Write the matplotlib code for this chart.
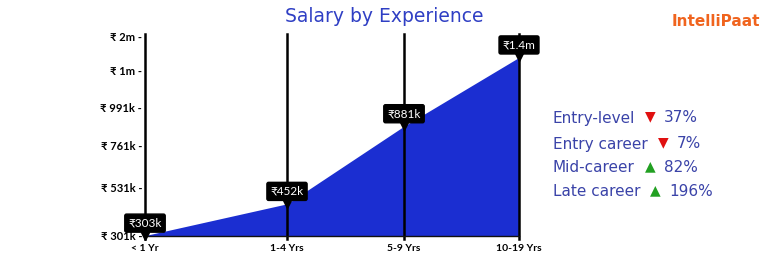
import numpy as np
import matplotlib.pyplot as plt

plt.rcParams['font.family'] = ['Lato', 'DejaVu Sans']

# data
stages = ["< 1 Yr", "1-4 Yrs", "5-9 Yrs", "10-19 Yrs"]
salary = [303000, 452000, 881000, 1400000]
salary_labels = ["₹303k", "₹452k", "₹881k", "₹1.4m"]

ytick_vals = [301000, 531000, 761000, 991000, 1000000, 2000000]
ytick_labels = ["₹ 301k -", "₹ 531k -", "₹ 761k -", "₹ 991k -", "₹ 1m -", "₹ 2m -"]

career = ["Entry-level", "Entry career", "Mid-career", "Late career"]
change_up = [False, False, True, True]
change_pct = ["37%", "7%", "82%", "196%"]

# layout: the source spaces the stages unevenly and its y axis is not linear
stage_x = [0, 142, 259, 374]
knot_height = [0, 49, 90, 128, 165, 199]

def fwd(v):
    return np.interp(v, ytick_vals, knot_height)

def inv(h):
    return np.interp(h, knot_height, ytick_vals)

W, H = 768, 259
fig = plt.figure(figsize=(W / 100, H / 100), dpi=100)
ax = fig.add_axes([145 / W, (H - 236) / H, (519 - 145) / W, (236 - 37) / H])
ax.set_yscale('function', functions=(fwd, inv))

blue = '#1b2ed1'
ax.fill_between(stage_x, salary, ytick_vals[0], color=blue, lw=0, zorder=1)

for xi in stage_x:
    ax.axvline(xi, ymin=-0.015, ymax=1.015, color='black', lw=1.8, clip_on=False, zorder=2)

for xi, v, lab in zip(stage_x, salary, salary_labels):
    ax.plot(xi, v, marker='v', ms=6, color='black', zorder=3, clip_on=False)
    ax.annotate(lab, (xi, v), xytext=(0, 5), textcoords='offset points',
                ha='center', va='bottom', color='white', fontsize=8.5, zorder=4,
                bbox=dict(boxstyle='round,pad=0.3,rounding_size=0.15', fc='black', ec='black'))

ax.set_xlim(stage_x[0], stage_x[-1])
ax.set_ylim(ytick_vals[0], ytick_vals[-1])
ax.set_xticks(stage_x, stages, fontsize=7.5, fontweight='bold')
ax.set_yticks(ytick_vals, ytick_labels, fontsize=8, fontweight='bold')
ax.tick_params(axis='x', length=0, pad=6)
ax.tick_params(axis='y', length=0, pad=2)
ax.minorticks_off()
for s in ['left', 'right', 'top']:
    ax.spines[s].set_visible(False)
ax.spines['bottom'].set_color('#111111')
ax.spines['bottom'].set_linewidth(1)
ax.patch.set_alpha(0)

fig.text(384 / W, 1 - 17 / H, "Salary by Experience", ha='center', va='center',
         color='#2f3fc4', fontsize=13.5, family=['DejaVu Sans'])
fig.text(760 / W, 1 - 21 / H, "IntelliPaat", ha='right', va='center',
         color='#f0641e', fontsize=11, fontweight='bold', family=['DejaVu Sans'])

txt_color = '#3a43a8'
rows_y = [118, 144, 168, 192]
for name, up, pct, ry in zip(career, change_up, change_pct, rows_y):
    t = fig.text(553 / W, 1 - ry / H, name, ha='left', va='center', color=txt_color,
                 fontsize=11, family=['DejaVu Sans'])
    tri = ax.annotate("▲" if up else "▼", xy=(1, 0.5), xycoords=t, xytext=(7, 1),
                      textcoords='offset points', ha='left', va='center',
                      color='#22a022' if up else '#e01010', fontsize=10,
                      family=['DejaVu Sans'])
    ax.annotate(pct, xy=(1, 0.5), xycoords=tri, xytext=(6, -1), textcoords='offset points',
                ha='left', va='center', color=txt_color, fontsize=11, family=['DejaVu Sans'])

fig.savefig('out.png', dpi=100)
